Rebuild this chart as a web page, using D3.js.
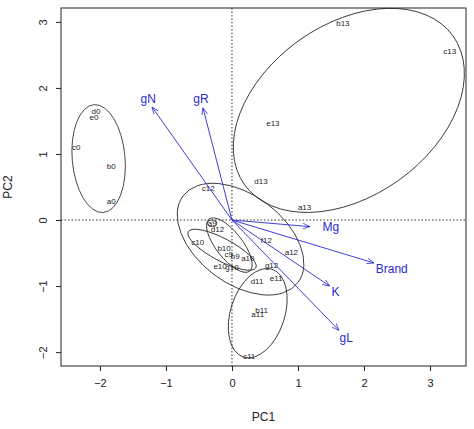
<!DOCTYPE html><html><head><meta charset="utf-8">
<script src="https://d3js.org/d3.v7.min.js"></script>
<style>body{margin:0;background:#fff}text{font-family:"Liberation Sans",Arial,sans-serif}</style></head><body>
<svg id="c" width="474" height="429"></svg>
<script>
const obsLabels=["b13","c13","e13","d13","a13","d0","e0","c0","b0","a0","c12","a9","d12","c10","b10","c9","b9","a10","e10","g10","f12","a12","g12","e11","d11","b11","a11","c11"];
const obsX=[1.68,3.30,0.62,0.44,1.10,-2.06,-2.09,-2.36,-1.83,-1.83,-0.36,-0.30,-0.22,-0.52,-0.12,-0.05,0.05,0.24,-0.18,0.0,0.52,0.90,0.60,0.67,0.38,0.45,0.39,0.26];
const obsY=[2.98,2.55,1.47,0.59,0.20,1.65,1.56,1.10,0.82,0.29,0.48,-0.05,-0.14,-0.33,-0.42,-0.52,-0.55,-0.58,-0.70,-0.72,-0.30,-0.48,-0.68,-0.88,-0.92,-1.36,-1.42,-2.06];
const varNames=["gN","gR","Mg","Brand","K","gL"];
const varX=[-1.21,-0.44,1.18,2.15,1.48,1.62];
const varY=[1.71,1.70,-0.10,-0.65,-1.00,-1.67];
const ellCx=[1.77,-2.02,0.13,0.39,-0.15,-0.04,-0.30];
const ellCy=[1.66,0.93,-0.29,-1.41,-0.45,-0.38,-0.05];
const ellA=[1.94,0.82,1.09,0.70,0.58,0.50,0.07];
const ellB=[1.30,0.40,0.67,0.41,0.17,0.20,0.05];
const ellAng=[35.5,95,-37,72,-28,-52,0];
const xTicks=[-2,-1,0,1,2,3], yTicks=[-2,-1,0,1,2,3];

const svg=d3.select("#c");
const L=61,R=466,T=8,B=366;
const x=d3.scaleLinear().domain([-2.59,3.545]).range([L,R]);
const y=d3.scaleLinear().domain([-2.21,3.21]).range([B,T]);
svg.append("defs").append("marker").attr("id","ah").attr("viewBox","0 0 10 10").attr("refX",10).attr("refY",5)
 .attr("markerWidth",7).attr("markerHeight",7).attr("orient","auto").attr("markerUnits","userSpaceOnUse")
 .append("path").attr("d","M0,1L10,5L0,9").attr("fill","none").attr("stroke","#2020d0");
svg.append("line").attr("x1",x(0)).attr("x2",x(0)).attr("y1",T).attr("y2",B).attr("stroke","#333").attr("stroke-dasharray","1.5,2");
svg.append("line").attr("x1",L).attr("x2",R).attr("y1",y(0)).attr("y2",y(0)).attr("stroke","#333").attr("stroke-dasharray","1.5,2");
// ellipses
const sx=x(1)-x(0), sy=y(0)-y(1);
ellCx.forEach((cx,i)=>{
 svg.append("ellipse").attr("cx",0).attr("cy",0).attr("rx",ellA[i]*sx).attr("ry",ellB[i]*sy)
  .attr("transform",`translate(${x(cx)},${y(ellCy[i])}) rotate(${-ellAng[i]})`)
  .attr("fill","none").attr("stroke","#222").attr("stroke-width",0.8);
});
obsLabels.forEach((l,i)=>svg.append("text").attr("x",x(obsX[i])).attr("y",y(obsY[i])).attr("dy","0.35em")
 .attr("text-anchor","middle").attr("font-size",8).attr("fill","#222").text(l));
varNames.forEach((n,i)=>{
 svg.append("line").attr("x1",x(0)).attr("y1",y(0)).attr("x2",x(varX[i])).attr("y2",y(varY[i]))
  .attr("stroke","#2a2ad0").attr("stroke-width",0.9).attr("marker-end","url(#ah)");
});
const lx=[-1.27,-0.47,1.37,2.42,1.57,1.73], ly=[1.83,1.83,-0.1,-0.74,-1.09,-1.78];
varNames.forEach((n,i)=>svg.append("text").attr("x",x(lx[i])).attr("y",y(ly[i])).attr("dy","0.35em")
 .attr("text-anchor",i==2?"start":"middle").attr("font-size",12).attr("fill","#2a2ad0").text(n));
svg.append("rect").attr("x",L).attr("y",T).attr("width",R-L).attr("height",B-T).attr("fill","none").attr("stroke","#222");
const ax=svg.append("g").attr("transform",`translate(0,${B})`).call(d3.axisBottom(x).tickValues(xTicks).tickSize(5).tickPadding(8).tickFormat(d3.format("d")));
const ay=svg.append("g").attr("transform",`translate(${L},0)`).call(d3.axisLeft(y).tickValues(yTicks).tickSize(5).tickPadding(4).tickFormat(d3.format("d")));
[ax,ay].forEach(g=>{g.select(".domain").remove();g.selectAll("text").attr("font-size",11).attr("fill","#222");g.selectAll("line").attr("stroke","#222");});
ay.selectAll("text").attr("text-anchor","middle").attr("dy",0).attr("transform",function(){const t=d3.select(this);return `rotate(-90,${t.attr("x")},0) translate(0,-2)`;});
ay.selectAll(".tick text").each(function(){const t=d3.select(this);t.attr("transform",`translate(-14,0) rotate(-90)`).attr("x",0).attr("y",0);});
svg.append("text").attr("x",(L+R)/2).attr("y",421).attr("text-anchor","middle").attr("font-size",12).attr("fill","#222").text("PC1");
svg.append("text").attr("transform",`translate(12,${(T+B)/2}) rotate(-90)`).attr("text-anchor","middle").attr("font-size",12).attr("fill","#222").text("PC2");
</script></body></html>
